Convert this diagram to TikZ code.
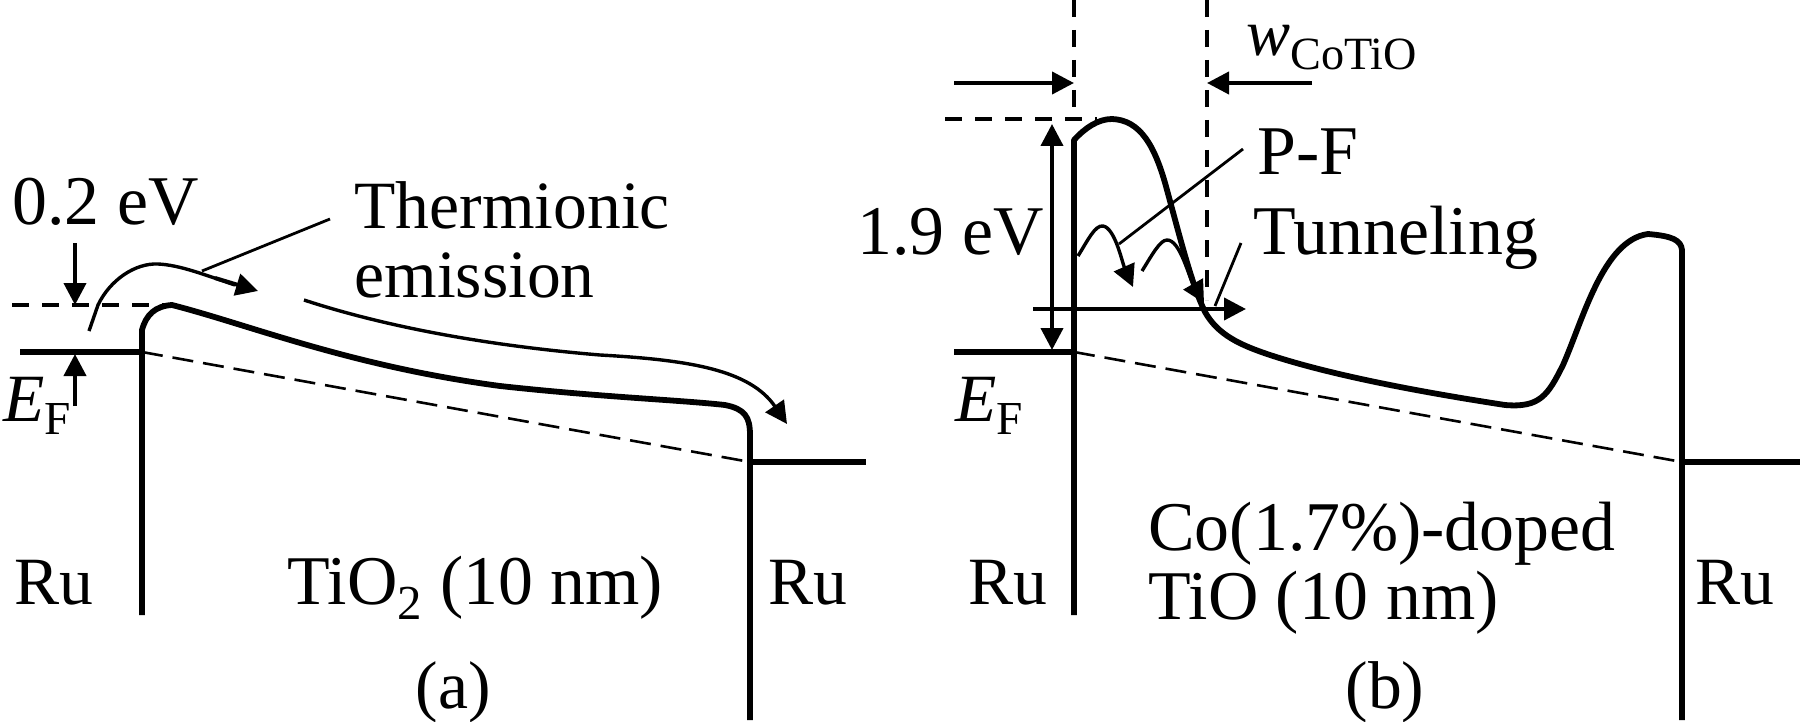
\documentclass[tikz,border=0pt]{standalone}
\usepackage{fontspec}
\setmainfont{Liberation Serif}
\usetikzlibrary{arrows.meta}
\tikzset{
  lab/.style={inner sep=0pt,font=\fontsize{33.8}{38}\selectfont},
  labbig/.style={inner sep=0pt,font=\fontsize{34.9}{38}\selectfont},
  thick line/.style={line width=2.9pt,line join=round},
  thin line/.style={line width=1.4pt},
  mid line/.style={line width=1.7pt},
  dash line/.style={line width=1.8pt,dash pattern=on 8.5pt off 6.5pt},
  dashthin/.style={line width=1.3pt,dash pattern=on 10.5pt off 5pt},
  arr/.style={line width=2pt,-{Triangle[length=11pt,width=11pt]}},
  darr/.style={line width=2pt,{Triangle[length=11pt,width=11pt]}-{Triangle[length=11pt,width=11pt]}},
}
\begin{document}
\begin{tikzpicture}[x=0.5pt,y=-0.5pt]
\useasboundingbox (0,0) rectangle (1800,722);
% ---- panel a
\coordinate (aL0) at (20,352);
\coordinate (aL1) at (142,352);
\coordinate (aB) at (142,615);
\coordinate (aR0) at (750,462);
\coordinate (aR1) at (866,462);
\coordinate (aRB) at (750,720);
\draw[thick line] (aL0) -- (aL1);
\draw[thick line] (aB) -- (142,330) .. controls (146,315) and (155,306) .. (172,305)
  .. controls (250,325) and (350,366) .. (500,386)
  .. controls (600,397) and (680,400) .. (725,405)
  .. controls (745,409) and (750,417) .. (750,435) -- (aRB);
\draw[thick line] (aR0) -- (aR1);
\draw[dashthin] (aL1) -- (aR0);
\draw[dash line] (12,305) -- (172,305);
\coordinate (ta0) at (89,331);
\coordinate (ta1) at (258,291);
\draw[mid line] (ta0) -- (98,305) .. controls (110,280) and (135,263) .. (158,264)
  .. controls (180,265) and (205,275) .. (235,285);
\draw[arr] (215,278) -- (ta1);
\coordinate (tb0) at (304,300);
\coordinate (tb1) at (787,424);
\draw[mid line,-{Triangle[length=11pt,width=11pt]}] (tb0) .. controls (380,325) and (480,345) .. (600,355)
  .. controls (690,360) and (750,370) .. (tb1);
\node[labbig,anchor=base west] (a02) at (12,224) {0.2 eV};
\coordinate (a02a) at (75,243);
\coordinate (a02b) at (75,305);
\draw[arr] (a02a) -- (a02b);
\coordinate (aefa) at (75,406);
\coordinate (aefb) at (75,354);
\draw[arr] (aefa) -- (aefb);
\node[lab,anchor=base west] (aef) at (3,421) {\textit{E}\textsubscript{F}};
\node[lab,anchor=base west] (tt) at (354,228) {Thermionic};
\node[lab,anchor=base west] (te) at (354,297) {emission};
\coordinate (tl0) at (330,219);
\coordinate (tl1) at (202,271);
\draw[thin line] (tl0) -- (tl1);
\node[lab,anchor=base west] (aru1) at (14,604) {Ru};
\node[lab,anchor=base west] (aru2) at (768,604) {Ru};
\node[labbig,anchor=base west] (ati) at (287,604) {TiO\textsubscript{2} (10 nm)};
\node[lab,anchor=base] (acap) at (453,708) {(a)};
% ---- panel b
\coordinate (bL0) at (954,352);
\coordinate (bL1) at (1074,352);
\coordinate (bB) at (1074,615);
\coordinate (bR0) at (1682,462);
\coordinate (bR1) at (1800,462);
\coordinate (bRB) at (1682,720);
\draw[thick line] (bL0) -- (bL1);
\draw[thick line] (bB) -- (1074,140) .. controls (1085,128) and (1098,119) .. (1112,119)
  .. controls (1140,120) and (1155,145) .. (1167,190)
  .. controls (1182,245) and (1192,285) .. (1205,312)
  .. controls (1218,335) and (1240,345) .. (1270,355)
  .. controls (1340,378) and (1440,395) .. (1505,405)
  .. controls (1540,408) and (1548,395) .. (1563,365)
  .. controls (1583,320) and (1603,240) .. (1648,234)
  .. controls (1672,236) and (1681,240) .. (1682,250) -- (bRB);
\draw[thick line] (bR0) -- (bR1);
\draw[dashthin] (bL1) -- (bR0);
\coordinate (bd1a) at (1074,0);
\coordinate (bd1b) at (1074,118);
\draw[dash line] (bd1a) -- (bd1b);
\coordinate (bd2a) at (1207,0);
\coordinate (bd2b) at (1207,300);
\draw[dash line] (bd2a) -- (bd2b);
\draw[dash line] (945,119) -- (1097,119);
\coordinate (warl) at (954,83);
\coordinate (warlb) at (1074,83);
\draw[arr] (warl) -- (warlb);
\coordinate (warr) at (1312,83);
\coordinate (warrb) at (1207,83);
\draw[arr] (warr) -- (warrb);
\node[inner sep=0pt,font=\fontsize{33}{38}\selectfont,anchor=base west] (w) at (1246,56) {\textit{w}\textsubscript{CoTiO}};
\coordinate (e1) at (1052,124);
\coordinate (e2) at (1052,350);
\draw[darr] (e1) -- (e2);
\node[labbig,anchor=base west] (b19) at (857,255) {1.9 eV};
\coordinate (hta) at (1033,309);
\coordinate (htb) at (1246,309);
\draw[arr] (hta) -- (htb);
\coordinate (pf0) at (1078,256);
\coordinate (pf1) at (1133,287);
\draw[mid line,-{Triangle[length=11pt,width=11pt]}] (pf0) .. controls (1088,240) and (1095,225) .. (1103,226)
  .. controls (1115,228) and (1122,262) .. (pf1);
\coordinate (pg0) at (1142,271);
\coordinate (pg1) at (1204,303);
\draw[mid line,-{Triangle[length=11pt,width=11pt]}] (pg0) .. controls (1152,255) and (1160,240) .. (1167,240)
  .. controls (1180,240) and (1188,275) .. (pg1);
\node[labbig,anchor=base west] (pf) at (1257,175) {P-F};
\coordinate (pfl0) at (1243,149);
\coordinate (pfl1) at (1119,244);
\draw[thin line] (pfl0) -- (pfl1);
\node[labbig,anchor=base west] (tun) at (1253,255) {Tunneling};
\coordinate (tl2) at (1241,243);
\coordinate (tl3) at (1215,306);
\draw[thin line] (tl2) -- (tl3);
\node[lab,anchor=base west] (baef) at (955,421) {\textit{E}\textsubscript{F}};
\node[lab,anchor=base west] (bru1) at (968,604) {Ru};
\node[lab,anchor=base west] (bru2) at (1695,604) {Ru};
\node[labbig,anchor=base west] (bco1) at (1148,550) {Co(1.7\%)-doped};
\node[labbig,anchor=base west] (bco2) at (1148,619) {TiO (10 nm)};
\node[lab,anchor=base] (bcap) at (1385,708) {(b)};
\end{tikzpicture}
\end{document}
